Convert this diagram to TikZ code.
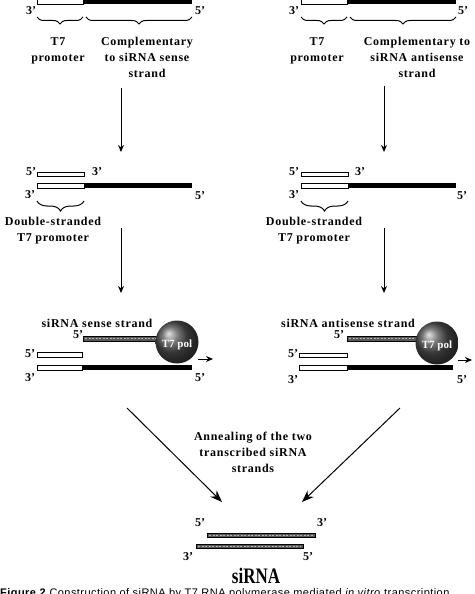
\documentclass[tikz,border=0pt]{standalone}
\usepackage{fontspec}
\setmainfont{Liberation Serif}
\newfontfamily\capfont{Liberation Sans}
\usetikzlibrary{arrows.meta,decorations.pathreplacing,shadings}
\begin{document}
\begin{tikzpicture}[x=1pt,y=-1pt,
  wst/.style={draw=black, fill=white, line width=0.7pt},
  bst/.style={fill=black},
  rna/.style={draw=black, fill=black!65, line width=0.5pt},
  rnah/.style={draw=white!70!black, line width=0.8pt, dash pattern=on 2pt off 1.5pt},
  pr/.style={font=\fontsize{12}{14}\selectfont\bfseries, inner sep=0pt},
  lbl/.style={font=\fontsize{12}{16}\selectfont\bfseries\addfontfeature{LetterSpace=6}, align=center, inner sep=0pt},
  varr/.style={line width=1pt, -{Stealth[length=7pt,width=6pt]}},
  darr/.style={line width=1pt, -{Stealth[length=12pt,width=9pt]}},
  brc/.style={decorate, decoration={brace, amplitude=#1, mirror}, line width=1pt},
  brc/.default=7pt,
  polball/.style={ball color=black!70},
  poltext/.style={font=\fontsize{11}{12}\selectfont\bfseries, text=white, inner sep=0pt}
]
\useasboundingbox (0,0) rectangle (474,594);
\clip (0,0) rectangle (474,594);

% ---------- Left column, step 1 ----------
\draw[wst] (37,-2) rectangle (83,4);
\fill[bst] (83,-2) rectangle (192,4);
\node[pr] (l1a) at (31,11) {3’};
\node[pr] (l1b) at (200,11) {5’};
\draw[brc] (37,17) -- (83,17);
\draw[brc] (86,17) -- (192,17);
\node[lbl, anchor=north] (l1t7) at (58,37) {T7\\promoter};
\node[lbl, anchor=north] (l1comp) at (147,37) {Complementary\\to siRNA sense\\strand};
\coordinate (l1s) at (121,88);
\coordinate (l1e) at (121,152);
\draw[varr] (l1s) -- (l1e);

% ---------- Left column, step 2 ----------
\draw[wst] (37,172) rectangle (84,176);
\node[pr] (l2a) at (31,172) {5’};
\node[pr] (l2b) at (97,172) {3’};
\draw[wst] (37,183) rectangle (84,188);
\fill[bst] (84,183) rectangle (192,188);
\node[pr] (l2c) at (30,195) {3’};
\node[pr] (l2d) at (200,196) {5’};
\draw[brc=10pt] (37,201) -- (84,201);
\node[lbl, anchor=north] (l2ds) at (53,217) {Double-stranded\\T7 promoter};
\coordinate (l2s) at (121,228);
\coordinate (l2e) at (121,293);
\draw[varr] (l2s) -- (l2e);

% ---------- Left column, step 3 ----------
\node[lbl] (l3lab) at (97,323) {siRNA sense strand};
\node[pr] (l3a) at (78,335) {5’};
\draw[rna] (83,336) rectangle (165,341);
\draw[rnah] (85,338.5) -- (163,338.5);
\shade[polball] (177,342) circle (21.5);
\node[poltext] (l3pol) at (177,345) {T7 pol};
\coordinate (l3s) at (198,359);
\coordinate (l3e) at (213,359);
\draw[line width=0.8pt, -{Stealth[length=7pt,width=6pt]}] (l3s) -- (l3e);
\draw[wst] (37,352) rectangle (82,357);
\node[pr] (l3b) at (30,354) {5’};
\draw[wst] (37,365) rectangle (82,370);
\fill[bst] (82,365) rectangle (192,370);
\node[pr] (l3c) at (30,378) {3’};
\node[pr] (l3d) at (200,378) {5’};

% ---------- Right column, step 1 ----------
\draw[wst] (301,-2) rectangle (347,4);
\fill[bst] (347,-2) rectangle (456,4);
\node[pr] (r1a) at (294,11) {3’};
\node[pr] (r1b) at (463,11) {5’};
\draw[brc] (301,17) -- (347,17);
\draw[brc] (350,17) -- (456,17);
\node[lbl, anchor=north] (r1t7) at (317,37) {T7\\promoter};
\node[lbl, anchor=north] (r1comp) at (417,37) {Complementary to\\siRNA antisense\\strand};
\coordinate (r1s) at (384,86);
\coordinate (r1e) at (384,152);
\draw[varr] (r1s) -- (r1e);

% ---------- Right column, step 2 ----------
\draw[wst] (301,172) rectangle (348,176);
\node[pr] (r2a) at (294,172) {5’};
\node[pr] (r2b) at (360,172) {3’};
\draw[wst] (301,183) rectangle (348,188);
\fill[bst] (348,183) rectangle (456,188);
\node[pr] (r2c) at (294,195) {3’};
\node[pr] (r2d) at (462,196) {5’};
\draw[brc=10pt] (301,201) -- (348,201);
\node[lbl, anchor=north] (r2ds) at (314,217) {Double-stranded\\T7 promoter};
\coordinate (r2s) at (384,228);
\coordinate (r2e) at (384,293);
\draw[varr] (r2s) -- (r2e);

% ---------- Right column, step 3 ----------
\node[lbl] (r3lab) at (348,323) {siRNA antisense strand};
\node[pr] (r3a) at (339,335) {5’};
\draw[rna] (347,336) rectangle (425,341);
\draw[rnah] (349,338.5) -- (423,338.5);
\shade[polball] (437,343) circle (21.5);
\node[poltext] (r3pol) at (437,346) {T7 pol};
\coordinate (r3s) at (458,360);
\coordinate (r3e) at (472,360);
\draw[line width=0.8pt, -{Stealth[length=7pt,width=6pt]}] (r3s) -- (r3e);
\draw[wst] (299,353) rectangle (347,357);
\node[pr] (r3b) at (293,354) {5’};
\draw[wst] (299,365) rectangle (347,370);
\fill[bst] (347,365) rectangle (453,370);
\node[pr] (r3c) at (293,380) {3’};
\node[pr] (r3d) at (462,380) {5’};

% ---------- Annealing ----------
\coordinate (ls) at (127,408);
\coordinate (le) at (222,502);
\coordinate (rs) at (400,408);
\coordinate (re) at (302,502);
\draw[darr] (ls) -- (le);
\draw[darr] (rs) -- (re);
\node[lbl, anchor=north] (ann) at (253,432) {Annealing of the two\\transcribed siRNA\\strands};

% ---------- siRNA ----------
\node[pr] (s1) at (200,523) {5’};
\draw[rna] (207,533) rectangle (315,537);
\draw[rnah] (209,535) -- (313,535);
\node[pr] (s2) at (322,523) {3’};
\draw[rna] (196,544) rectangle (303,548);
\draw[rnah] (198,546) -- (301,546);
\node[pr] (s3) at (188,557) {3’};
\node[pr] (s4) at (308,557) {5’};
\node[inner sep=0pt, font=\fontsize{17}{18}\selectfont\bfseries] (sirna) at (256,576) {\scalebox{1}[1.3]{siRNA}};

% ---------- Caption (cut off) ----------
\node[anchor=north west, inner sep=0pt, font=\capfont\fontsize{11}{12}\selectfont\addfontfeature{LetterSpace=4}] (cap) at (0,588)
  {\textbf{Figure 2} Construction of siRNA by T7 RNA polymerase mediated \textit{in vitro} transcription.};
\end{tikzpicture}
\end{document}
